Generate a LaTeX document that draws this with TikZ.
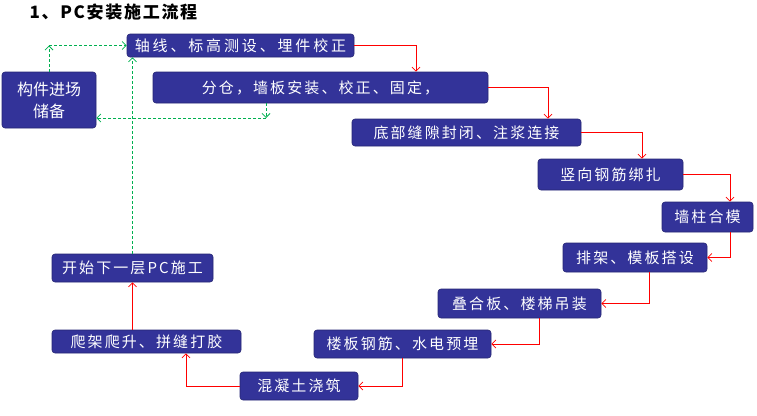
\documentclass[tikz,border=0pt]{standalone}
\usepackage{fontspec}
\usepackage{tikz}
\usetikzlibrary{arrows.meta}
\newfontfamily\cjk{Noto Sans CJK SC}
\newfontfamily\cjkwide{Noto Sans CJK SC}[LetterSpace=14]
\newfontfamily\cjkwider{Noto Sans CJK SC}[LetterSpace=19]
\newfontfamily\cjktitle{Noto Sans CJK SC}[LetterSpace=10]
\definecolor{boxblue}{RGB}{51,51,153}
\definecolor{boxedge}{RGB}{38,38,115}
\definecolor{flowred}{RGB}{255,0,0}
\definecolor{loopgreen}{RGB}{0,176,80}

\begin{document}
\begin{tikzpicture}[
  x=1pt, y=-1pt,
  box/.style={draw=boxedge, fill=boxblue, rounded corners=3pt, line width=0.6pt, text=white, inner sep=0pt, font=\fontsize{15}{17}\selectfont\cjkwide},
  flow/.style={-{Straight Barb[length=4pt, width=8pt]}, flowred, line width=0.8pt},
  loop/.style={-{Straight Barb[length=4pt, width=8pt]}, loopgreen, line width=0.8pt, dash pattern=on 3pt off 2pt},
]
\useasboundingbox (0,0) rectangle (757,415);

\node[anchor=west, font=\fontsize{17}{19}\selectfont\cjktitle\bfseries] (title) at (26,12) {1、PC安装施工流程};

\node[box, minimum width=94, minimum height=56, align=center, font=\fontsize{16}{22}\selectfont\cjk] (store) at (49,100) {构件进场\\储备};

\node[box, minimum width=227, minimum height=23, font=\fontsize{15}{17}\selectfont\cjkwider] (axis) at (240.5,45.5) {轴线、标高测设、埋件校正};
\node[box, minimum width=335, minimum height=31] (wall) at (320.5,87.5) {分仓，墙板安装、校正、固定，};
\node[box, minimum width=229, minimum height=27] (grout) at (466.5,132.5) {底部缝隙封闭、注浆连接};
\node[box, minimum width=145, minimum height=31] (rebar) at (610.5,174.5) {竖向钢筋绑扎};
\node[box, minimum width=91, minimum height=30] (form) at (707.5,217) {墙柱合模};
\node[box, minimum width=144, minimum height=29] (shore) at (635,257.5) {排架、模板搭设};
\node[box, minimum width=163, minimum height=29] (slab) at (519.5,303.5) {叠合板、楼梯吊装};
\node[box, minimum width=177, minimum height=28] (floor) at (402.5,344) {楼板钢筋、水电预埋};
\node[box, minimum width=118, minimum height=28] (pour) at (299,386) {混凝土浇筑};
\node[box, minimum width=189, minimum height=23] (climb) at (146.5,341.5) {爬架爬升、拼缝打胶};
\node[box, minimum width=161, minimum height=28] (next) at (132.5,268) {开始下一层PC施工};

\coordinate (upturn) at (store.north |- axis.west);
\coordinate (downturn) at ([xshift=-54.5]wall.south |- 0,118);

\draw[flow] (axis.east) -| ([xshift=95.5]wall.north);
\draw[flow] (wall.east) -| ([xshift=81.5]grout.north);
\draw[flow] (grout.east) -| ([xshift=31.5]rebar.north);
\draw[flow] (rebar.east) -| ([xshift=22.5]form.north);
\draw[flow] ([xshift=22.5]form.south) |- (shore.east);
\draw[flow] ([xshift=14]shore.south) |- (slab.east);
\draw[flow] ([xshift=19.5]slab.south) |- (floor.east);
\draw[flow] (floor.south) |- (pour.east);
\draw[flow] (pour.west) -| ([xshift=39.5]climb.south);
\draw[flow] (climb.north -| next.south) -- (next.south);

\draw[loop] (next.north) -- (axis.south -| next.north);
\draw[loop] (store.north) -- (upturn);
\draw[loop] (upturn) -- (axis.west);
\draw[loop] ([xshift=-54.5]wall.south) -- (downturn);
\draw[loop] (downturn) -- (store.east |- downturn);
\end{tikzpicture}
\end{document}
